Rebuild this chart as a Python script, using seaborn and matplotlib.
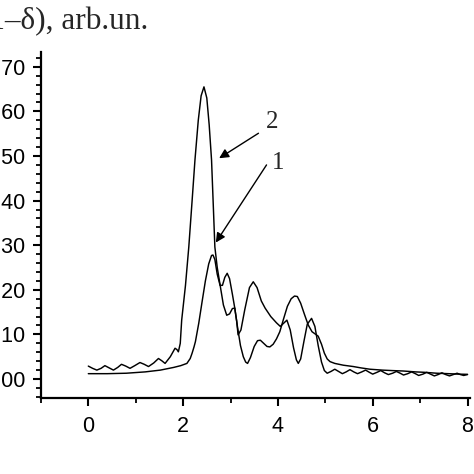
import numpy as np
import pandas as pd
import matplotlib
matplotlib.use("Agg")
import matplotlib.pyplot as plt
import seaborn as sns
from matplotlib.ticker import MultipleLocator, FuncFormatter

# curve 1: smooth baseline, smaller peak
x1 = [0.0, 0.4, 0.8, 1.2, 1.52, 1.8, 1.95, 2.08, 2.15, 2.19, 2.23, 2.26, 2.33,
      2.40, 2.47, 2.54, 2.60, 2.63, 2.67, 2.72, 2.78, 2.83, 2.88, 2.93, 2.98,
      3.04, 3.09, 3.15, 3.21, 3.27, 3.32, 3.36, 3.42, 3.50, 3.57, 3.63, 3.70,
      3.77, 3.83, 3.90, 3.97, 4.04, 4.12, 4.20, 4.28, 4.35, 4.41, 4.48, 4.56,
      4.64, 4.72, 4.80, 4.85, 4.92, 4.98, 5.04, 5.10, 5.20, 5.38, 5.59, 5.75,
      5.94, 6.20, 6.40, 6.64, 6.90, 7.10, 7.35, 7.60, 7.80, 8.00]
y1 = [1.2, 1.2, 1.3, 1.6, 2.0, 2.6, 3.0, 3.5, 4.6, 5.8, 7.2, 8.4, 12.5,
      17.3, 22.0, 25.8, 27.7, 27.8, 26.8, 23.5, 21.0, 21.0, 22.8, 23.7, 22.5,
      19.0, 15.9, 11.5, 7.5, 5.0, 3.8, 3.5, 4.8, 7.3, 8.6, 8.7, 8.0,
      7.3, 7.2, 7.8, 9.0, 10.6, 13.5, 16.3, 18.0, 18.6, 18.5, 17.0, 14.5,
      12.1, 10.6, 10.0, 9.6, 7.8, 5.8, 4.5, 3.9, 3.5, 3.1, 2.8, 2.5,
      2.2, 2.0, 1.9, 1.8, 1.6, 1.5, 1.3, 1.2, 1.1, 1.05]

# curve 2: wavy baseline, big peak
x2 = [0.0, 0.09, 0.18, 0.27, 0.35, 0.44, 0.53, 0.62, 0.70, 0.79, 0.88, 0.98,
      1.09, 1.18, 1.27, 1.38, 1.48, 1.55, 1.62, 1.73, 1.83, 1.87, 1.90, 1.94,
      1.97, 2.05, 2.12, 2.19, 2.25, 2.32, 2.38, 2.44, 2.50, 2.55, 2.60, 2.64,
      2.67, 2.72, 2.78, 2.85, 2.92, 2.98, 3.04, 3.09, 3.13, 3.16, 3.22, 3.30,
      3.40, 3.48, 3.56, 3.65, 3.73, 3.85, 3.97, 4.05, 4.12, 4.19, 4.26, 4.33,
      4.39, 4.43, 4.48, 4.55, 4.62, 4.71, 4.78, 4.85, 4.92, 4.98, 5.04, 5.12,
      5.20, 5.28, 5.36, 5.44, 5.52, 5.60, 5.68, 5.77, 5.85, 5.93, 6.00, 6.09,
      6.17, 6.25, 6.33, 6.42, 6.50, 6.58, 6.65, 6.74, 6.82, 6.90, 6.97, 7.06,
      7.14, 7.22, 7.30, 7.38, 7.46, 7.54, 7.62, 7.70, 7.78, 7.85, 7.92, 8.00]
y2 = [2.9, 2.4, 2.0, 2.4, 3.0, 2.5, 2.0, 2.6, 3.3, 2.9, 2.4, 3.0,
      3.7, 3.3, 2.8, 3.6, 4.6, 4.1, 3.5, 5.0, 6.9, 6.6, 6.1, 8.0,
      13.2, 21.0, 29.6, 40.0, 49.1, 58.0, 63.5, 65.5, 63.0, 57.0, 49.1, 38.0,
      29.6, 25.0, 21.1, 16.6, 14.3, 14.6, 15.8, 15.9, 13.0, 9.9, 11.0, 15.5,
      20.5, 21.8, 20.5, 17.5, 15.9, 14.0, 12.6, 11.8, 12.5, 13.2, 11.0, 7.0,
      4.3, 3.5, 4.5, 8.5, 12.3, 13.6, 11.8, 7.5, 3.8, 1.9, 1.3, 1.7,
      2.2, 1.7, 1.2, 1.6, 2.1, 1.6, 1.2, 1.6, 2.0, 1.5, 1.1, 1.5,
      1.9, 1.4, 1.0, 1.3, 1.7, 1.3, 0.9, 1.2, 1.6, 1.2, 0.8, 1.1,
      1.5, 1.1, 0.7, 1.0, 1.4, 1.0, 0.7, 1.0, 1.3, 1.0, 0.8, 1.0]

y_ticks = [0, 10, 20, 30, 40, 50, 60, 70]
x_ticks = [0, 2, 4, 6, 8]

sns.set_style("ticks")
plt.rcParams["font.family"] = ["Liberation Sans", "DejaVu Sans"]

fig = plt.figure(figsize=(4.74, 4.74), dpi=100)
ax = fig.add_axes([0.0863, 0.1599, 0.905, 0.7312])

sns.lineplot(x=x1, y=y1, ax=ax, color="black", lw=1.05, sort=False,
             estimator=None, solid_joinstyle="round")
sns.lineplot(x=x2, y=y2, ax=ax, color="black", lw=1.05, sort=False,
             estimator=None, solid_joinstyle="round")

ax.set_xlim(-1, 8.05)
ax.set_ylim(-4.3, 73.4)
ax.set_xticks(x_ticks)
ax.set_yticks(y_ticks)
ax.xaxis.set_minor_locator(MultipleLocator(1))
ax.yaxis.set_minor_locator(MultipleLocator(2))
ax.yaxis.set_major_formatter(FuncFormatter(lambda v, p: f"{v / 100:.2f}"))

for s in ["top", "right"]:
    ax.spines[s].set_visible(False)
for s in ["left", "bottom"]:
    ax.spines[s].set_linewidth(1.6)
    ax.spines[s].set_color("black")

ax.tick_params(axis="both", which="major", length=6, width=1.5, colors="black",
               labelsize=15.5, direction="out")
ax.tick_params(axis="both", which="minor", length=3.5, width=1.3, colors="black",
               direction="out")
ax.tick_params(axis="y", which="major", pad=5)
ax.tick_params(axis="x", which="major", pad=7)
ax.set_xlabel("")
ax.set_ylabel("")

# curve labels with arrows
ax.annotate("", xy=(2.76, 49.5), xytext=(3.59, 55.1),
            arrowprops=dict(arrowstyle="-|>", color="black", lw=1.0,
                            mutation_scale=14, shrinkA=0, shrinkB=0))
ax.annotate("", xy=(2.69, 30.6), xytext=(3.76, 48.0),
            arrowprops=dict(arrowstyle="-|>", color="black", lw=1.0,
                            mutation_scale=14, shrinkA=0, shrinkB=0))
ax.text(3.87, 57.7, "2", fontsize=18, family="Liberation Serif",
        ha="center", va="center")
ax.text(4.01, 48.4, "1", fontsize=18, family="Liberation Serif",
        ha="center", va="center")

fig.text(148 / 474, 1 - 29 / 474, "(1–δ), arb.un.", fontsize=22.5,
         family=["Liberation Serif", "DejaVu Serif"], ha="right", va="baseline")

fig.savefig("out.png", dpi=100)
